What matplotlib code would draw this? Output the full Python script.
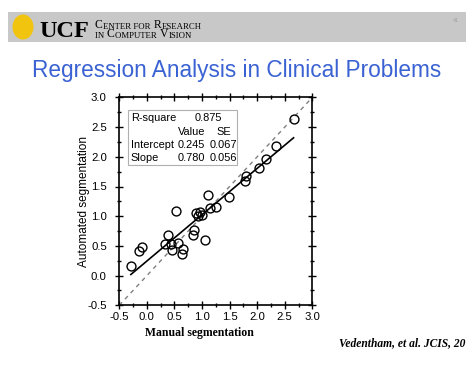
import matplotlib
matplotlib.use("Agg")
import matplotlib.pyplot as plt
from matplotlib.patches import Rectangle, Ellipse
from matplotlib.ticker import MultipleLocator
import numpy as np

plt.rcParams["axes.unicode_minus"] = False

# ---- data ----
manual = [-0.29, -0.15, -0.09, 0.33, 0.39, 0.43, 0.46, 0.53, 0.57, 0.65, 0.64,
          0.84, 0.85, 0.90, 0.92, 0.97, 1.00, 1.06, 1.10, 1.15, 1.26, 1.49,
          1.78, 1.79, 2.04, 2.16, 2.34, 2.66]
automated = [0.17, 0.42, 0.48, 0.54, 0.68, 0.53, 0.43, 1.09, 0.55, 0.44, 0.36,
             0.68, 0.76, 1.05, 1.00, 1.07, 1.02, 0.60, 1.36, 1.13, 1.16, 1.33,
             1.59, 1.68, 1.81, 1.96, 2.18, 2.63]
intercept = 0.245
slope = 0.780
r_square = "0.875"
table_rows = [("Intercept", "0.245", "0.067"), ("Slope", "0.780", "0.056")]
xticks = [-0.5, 0.0, 0.5, 1.0, 1.5, 2.0, 2.5, 3.0]
yticks = [-0.5, 0.0, 0.5, 1.0, 1.5, 2.0, 2.5, 3.0]

fig = plt.figure(figsize=(4.74, 3.66), dpi=100)
fig.patch.set_facecolor("white")

# overlay for slide decorations
ov = fig.add_axes([0, 0, 1, 1])
ov.set_xlim(0, 474)
ov.set_ylim(366, 0)
ov.axis("off")

# ---- header bar ----
ov.add_patch(Rectangle((8, 12), 458, 30, facecolor="#c8c8c8", edgecolor="none", zorder=0))
ov.add_patch(Ellipse((23, 27), 21, 25, facecolor="#f1c40f", edgecolor="none", zorder=1))
ov.text(39, 37, "UCF", family="Liberation Serif", weight="bold",
        fontsize=17.5, color="black", va="baseline")

SERIF = "Liberation Serif"
def small_caps(x, y, parts):
    prev = ov.text(x, y, parts[0][0], family=SERIF, fontsize=parts[0][1], va="baseline")
    for txt, size in parts[1:]:
        prev = ov.annotate(txt, xy=(1, 0), xycoords=prev, xytext=(0.4, 0),
                           textcoords="offset points", family=SERIF, fontsize=size,
                           va="bottom", ha="left")
    return prev
B, S = 8.4, 6.3
small_caps(95, 27.8, [("C", B), ("ENTER FOR ", S), ("R", B), ("ESEARCH", S)])
small_caps(95, 38.0, [("IN ", S), ("C", B), ("OMPUTER ", S), ("V", B), ("ISION", S)])
ov.text(456, 21, "41", fontsize=3.5, color="#a0a0a0", ha="center", va="center")

# ---- title ----
ov.text(237, 70, "Regression Analysis in Clinical Problems", family="Liberation Sans",
        fontsize=16.3, color="#3a62d3", ha="center", va="center")

# ---- axes ----
ax = fig.add_axes([119.3/474, 1-305.3/366, 193/474, 207.9/366])
ax.set_xlim(-0.5, 3.0)
ax.set_ylim(-0.5, 3.0)
ax.plot([-0.5, 3.0], [-0.5, 3.0], linestyle=(0, (3, 3)), color="#808080", lw=1.0)
xs = np.array([min(manual), max(manual)])
ax.plot(xs, intercept + slope * xs, color="black", lw=1.2)
ax.plot(manual, automated, linestyle="none", marker="o", markersize=6.4,
        markerfacecolor="none", markeredgecolor="black", markeredgewidth=1.0)

ax.set_xticks(xticks)
ax.set_yticks(yticks)
ax.xaxis.set_minor_locator(MultipleLocator(0.25))
ax.yaxis.set_minor_locator(MultipleLocator(0.25))
ax.tick_params(which="both", direction="inout", top=True, right=True, labelsize=8.2,
               width=1.0)
ax.tick_params(which="major", length=6)
ax.tick_params(which="minor", length=3)
ax.tick_params(axis="x", pad=2)
ax.tick_params(axis="y", pad=6)
for lab in ax.get_xticklabels() + ax.get_yticklabels():
    lab.set_family("Liberation Sans")
for s in ax.spines.values():
    s.set_linewidth(1.2)

ax.set_ylabel("Automated segmentation", family="Liberation Sans", fontsize=8.5)
ax.yaxis.label.set_va("center")
ax.yaxis.set_label_coords(-0.183, 0.5)
ov.text(199, 333, "Manual segmentation", family=SERIF,
        weight="bold", fontsize=8.5, ha="center", va="center")

# ---- stats table ----
ax.add_patch(Rectangle((0.047, 0.675), 0.561, 0.264, transform=ax.transAxes,
                       facecolor="white", edgecolor="#b0b0b0", lw=0.8, zorder=3))
kw = dict(transform=ax.transAxes, family="Liberation Sans", fontsize=7.9, va="center", zorder=4)
ax.text(0.059, 0.899, "R-square", ha="left", **kw)
ax.text(0.461, 0.899, r_square, ha="center", **kw)
ax.text(0.375, 0.835, "Value", ha="center", **kw)
ax.text(0.539, 0.835, "SE", ha="center", **kw)
for (name, val, se), yy in zip(table_rows, [0.771, 0.710]):
    ax.text(0.059, yy, name, ha="left", **kw)
    ax.text(0.375, yy, val, ha="center", **kw)
    ax.text(0.539, yy, se, ha="center", **kw)

# ---- citation ----
ov.text(465, 343, "Vedentham, et al. JCIS, 20", family=SERIF,
        weight="bold", style="italic", fontsize=8.3, ha="right", va="center")

fig.savefig("out.png", dpi=100)
